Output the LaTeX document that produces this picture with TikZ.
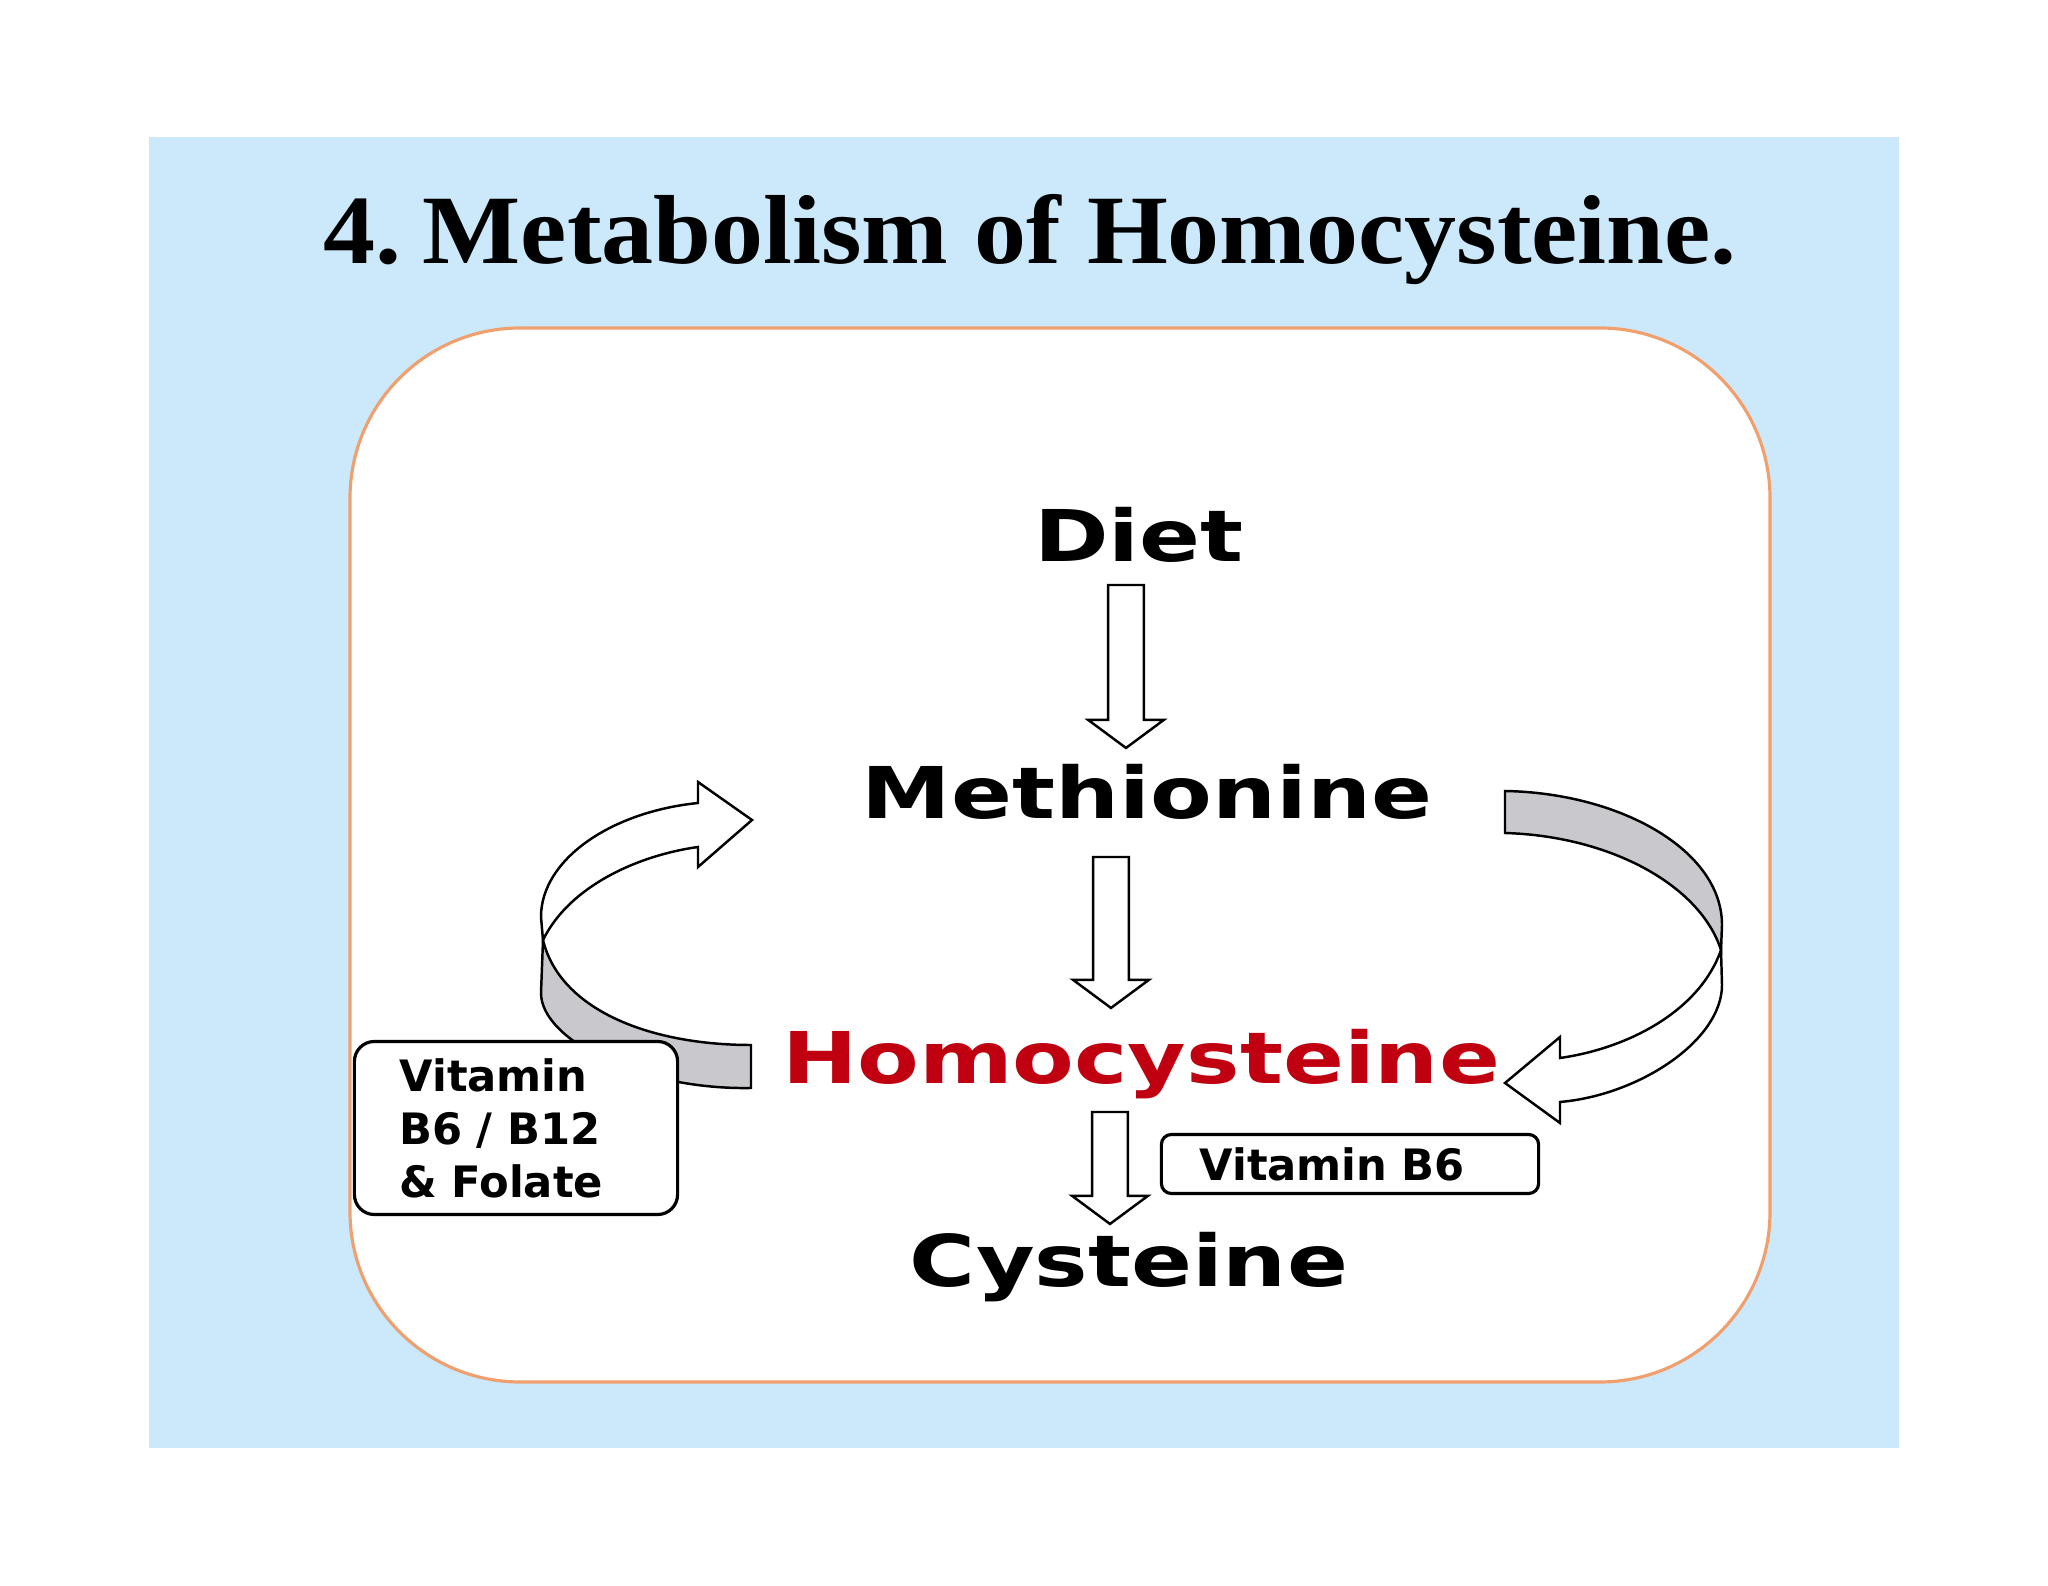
\documentclass[tikz,border=0pt]{standalone}
\usepackage{fontspec}
\newfontfamily\titlefont[FakeStretch=1.06]{Liberation Serif}
\newfontfamily\diagfont[FakeStretch=1.26]{DejaVu Sans}
\newfontfamily\labelfont{DejaVu Sans}
\usetikzlibrary{calc}
\definecolor{slideblue}{RGB}{204,233,251}
\definecolor{frameorange}{RGB}{240,160,110}
\definecolor{homored}{RGB}{192,0,16}
\definecolor{ribbongrey}{RGB}{200,200,205}
\tikzset{
    molnode/.style={anchor=base, inner sep=0pt, font=\diagfont\bfseries\fontsize{20.3}{24}\selectfont},
    vitbox/.style={draw=black, line width=0.9pt, fill=white, align=left, inner ysep=0pt, font=\labelfont\bfseries\fontsize{12.3}{15.1}\selectfont},
    blockarr/.style={draw=black, fill=white, line width=0.7pt,
      to path={let \p1=(\tikztostart), \p2=(\tikztotarget) in
        (\x1-5.1pt,\y1) -- (\x1-5.1pt,\y2+8pt) -- (\x1-10.8pt,\y2+8pt) -- (\x1,\y2)
        -- (\x1+10.8pt,\y2+8pt) -- (\x1+5.1pt,\y2+8pt) -- (\x1+5.1pt,\y1) -- cycle}},
    ribbon/.style={draw=black, line width=0.7pt}
}

\begin{document}
\begin{tikzpicture}[x=0.01cm, y=-0.01cm]
    \useasboundingbox (0,0) rectangle (2048,1586);
    \fill[white] (0,0) rectangle (2048,1586);
    \fill[slideblue] (149,137) rectangle (1899,1448);
    \draw[frameorange, line width=0.9pt, fill=white, rounded corners=1.7cm] (350,328) rectangle (1770,1382);

    \node[anchor=base, inner sep=0pt, font=\titlefont\bfseries\fontsize{27.9}{33}\selectfont] (title)
      at (1030,264) {4.\hspace{0.22em}Metabolism of Homocysteine.};

    \node[molnode] (diet) at (1139,562) {Diet};
    \node[molnode] (meth) at (1147,819) {Methionine};
    \node[molnode, text=homored] (homo) at (1141,1084) {Homocysteine};
    \node[molnode] (cyst) at (1129,1287) {Cysteine};

    \draw[blockarr] ([xshift=-0.13cm,yshift=-0.23cm]diet.base) to ([yshift=0.71cm]meth.base);
    \draw[blockarr] ([xshift=-0.36cm,yshift=-0.38cm]meth.base) to ([yshift=0.76cm]homo.base);
    \draw[blockarr] ([xshift=-0.31cm,yshift=-0.28cm]homo.base) to ([yshift=0.63cm]cyst.base);

    % left ribbon: back side, then front with head
    \draw[ribbon, fill=ribbongrey] (751,1045) .. controls (650,1045) and (560,1010) .. (543,940)
      -- (541,993) .. controls (541,1040) and (640,1090) .. (751,1088) -- cycle;
    \draw[ribbon, fill=white] (543,940) .. controls (570,885) and (640,855) .. (698,847)
      -- (698,867) -- (752,820) -- (698,782) -- (698,803)
      .. controls (610,812) and (541,860) .. (541,917) -- cycle;

    % right ribbon
    \draw[ribbon, fill=ribbongrey] (1505,791) .. controls (1620,793) and (1722,850) .. (1722,925)
      -- (1721,950) .. controls (1700,885) and (1610,836) .. (1505,833) -- cycle;
    \draw[ribbon, fill=white] (1721,950) .. controls (1700,1010) and (1630,1048) .. (1560,1058)
      -- (1560,1037) -- (1505,1083) -- (1560,1123) -- (1560,1102)
      .. controls (1640,1095) and (1722,1040) .. (1722,985) -- cycle;

    \node[vitbox, rounded corners=0.2cm, minimum width=3.23cm, minimum height=1.73cm,
      text width=2.33cm, inner xsep=0.45cm] (vitfol) at (516,1128) {Vitamin\\B6 / B12\\\& Folate};
    \node[vitbox, rounded corners=0.1cm, minimum width=3.77cm, minimum height=0.59cm,
      text width=3.01cm, inner xsep=0.38cm] (vitsix) at (1350,1164) {Vitamin B6};
\end{tikzpicture}
\end{document}
